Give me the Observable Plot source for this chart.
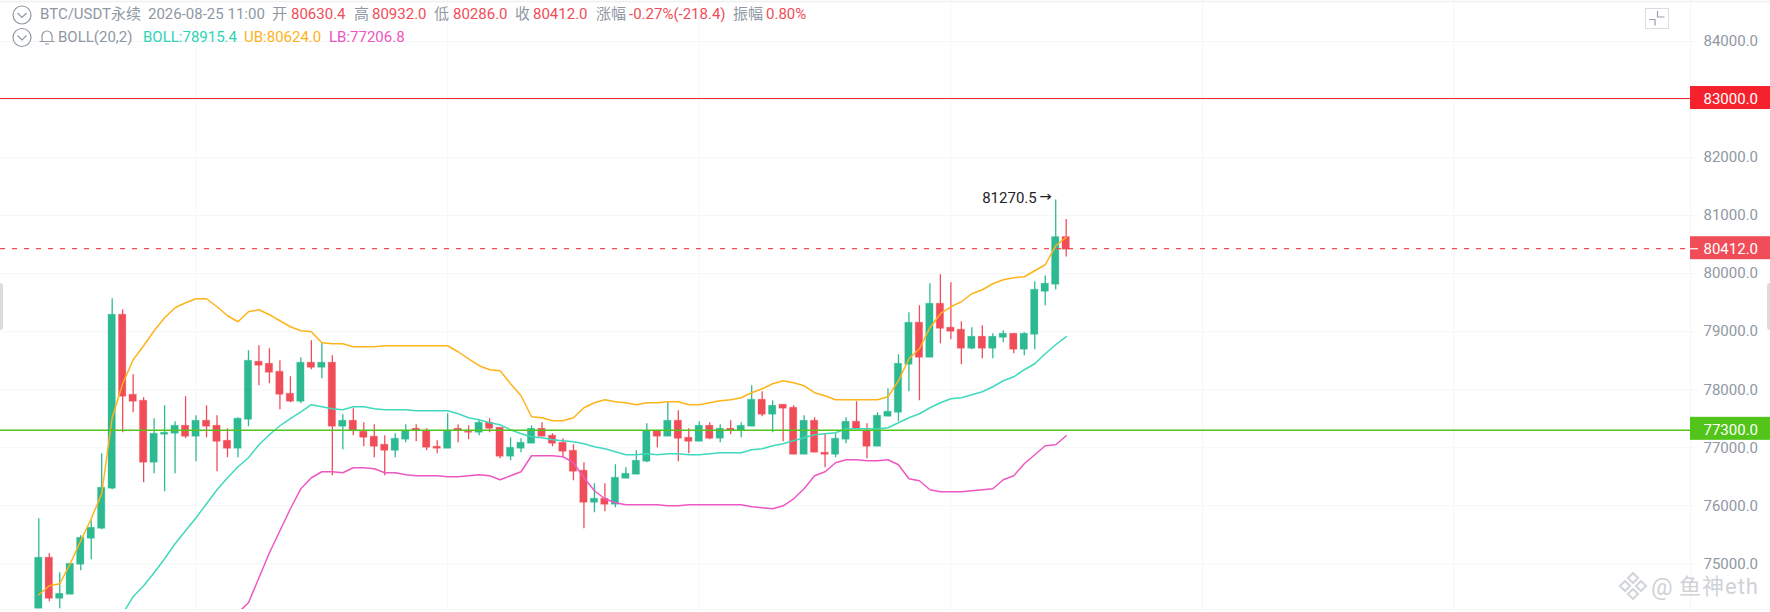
<!DOCTYPE html>
<html>
<head>
<meta charset="utf-8">
<script src="https://cdn.jsdelivr.net/npm/d3@7"></script>
<script src="https://cdn.jsdelivr.net/npm/@observablehq/plot@0.6"></script>
<style>
html,body{margin:0;padding:0;background:#fff;width:1770px;height:612px;overflow:hidden}
#wrap{position:relative;width:1770px;height:612px;font-family:Roboto,"Noto Sans CJK SC",sans-serif;font-size:15px;color:#8f98a3}
#wrap svg{display:block}
.t{position:absolute;white-space:nowrap;line-height:20px}
.r1{top:4px}.r2{top:27px}
.red{color:#f04d59}
.ov{position:absolute}
</style>
</head>
<body>
<div id="wrap">
  <div id="chart"></div>
  <svg class="ov" style="left:11px;top:4px" width="22" height="46" fill="none" stroke="#8f98a3" stroke-width="1.2">
    <circle cx="11" cy="11" r="9"/><path d="M6.5 9l4.5 4.5 4.5-4.5"/>
    <circle cx="11" cy="33.5" r="9"/><path d="M6.5 31.5l4.5 4.5 4.5-4.5"/>
  </svg>
  <svg class="ov" style="left:39px;top:28px" width="18" height="18" fill="none" stroke="#8f98a3" stroke-width="1.2">
    <path d="M0.5 13.5h15M3 13.5V8a5 5 0 0 1 10 0v5.5M6 16h4"/>
  </svg>
  <span class="t r1" style="left:40px">BTC/USDT永续</span>
  <span class="t r1" style="left:148px">2026-08-25 11:00</span>
  <span class="t r1" style="left:272px">开</span><span class="t r1 red" style="left:291px">80630.4</span>
  <span class="t r1" style="left:354px">高</span><span class="t r1 red" style="left:372px">80932.0</span>
  <span class="t r1" style="left:434px">低</span><span class="t r1 red" style="left:453px">80286.0</span>
  <span class="t r1" style="left:515px">收</span><span class="t r1 red" style="left:533px">80412.0</span>
  <span class="t r1" style="left:596px">涨幅</span><span class="t r1 red" style="left:629px">-0.27%(-218.4)</span>
  <span class="t r1" style="left:733px">振幅</span><span class="t r1 red" style="left:766px">0.80%</span>
  <span class="t r2" style="left:58px">BOLL(20,2)</span>
  <span class="t r2" style="left:143px;color:#2dd4b4">BOLL:78915.4</span>
  <span class="t r2" style="left:244px;color:#ffb21a">UB:80624.0</span>
  <span class="t r2" style="left:329px;color:#ef55c0">LB:77206.8</span>
  <svg class="ov" style="left:1645px;top:8px" width="24" height="21" fill="none">
    <rect x=".5" y=".5" width="23" height="20" stroke="#d9dce0"/>
    <path d="M4 11.5h6v6" stroke="#97a0aa" stroke-width="1.2"/>
    <path d="M12.5 3v6h7" stroke="#97a0aa" stroke-width="1.2"/>
  </svg>
  <div class="ov" style="left:0;top:283px;width:3px;height:47px;background:#dcdcdc;border-radius:0 3px 3px 0"></div>
  <div class="ov" style="left:1767px;top:283px;width:3px;height:47px;background:#dcdcdc;border-radius:3px 0 0 3px"></div>
  <svg class="ov" style="left:1618px;top:571px" width="30" height="30" fill="none" stroke="#d3d6da" stroke-width="2.2">
    <path d="M15 2l5 5-5 5-5-5zM15 18l5 5-5 5-5-5zM2 15l5-5 5 5-5 5zM18 15l5-5 5 5-5 5z"/>
  </svg>
  <span class="t" style="left:1651px;top:573px;font-size:24px;line-height:28px;color:#cfd2d6">@</span>
  <span class="t" style="left:1679px;top:573px;font-size:22px;line-height:28px;color:#cfd2d6;letter-spacing:1px">鱼神eth</span>
</div>
<script>
const open = [74226,75105,74398,74467,74984,75432,75604,76294,79292,77913,77810,76742,77224,77241,77379,77190,77465,77379,77121,76983,77482,78482,78447,78309,77930,77793,78465,78378,78465,77362,77465,77276,77190,77052,76948,77138,77327,77293,77017,76983,77327,77276,77258,77431,77345,76845,76983,77069,77327,77207,77086,76948,76604,76052,76121,76018,76466,76535,76759,77293,77190,77465,77172,77103,77379,77155,77327,77293,77362,77827,77569,77741,77689,76879,77465,76914,76879,77138,77448,77293,77017,77534,77603,78430,79154,78551,79481,79068,79033,78706,78913,78706,78895,78964,78689,78947,79688,79808,80630.4];
const high = [75777,75174,74846,75001,75484,75742,76897,79567,79378,78258,77862,77500,77724,77448,77879,77551,77724,77551,77327,77517,78671,78757,78706,78499,78223,78551,78844,78809,78585,77569,77672,77431,77396,77207,77241,77396,77396,77327,77121,77586,77396,77379,77482,77500,77345,77172,77155,77379,77431,77241,77155,77052,76742,76380,76380,76707,76655,76948,77414,77293,77775,77638,77327,77448,77431,77396,77465,77431,78068,77965,77810,77741,77724,77551,77517,77241,77241,77517,77793,77414,77603,78017,78602,79326,79447,79826,79981,79843,79171,79068,79102,78964,79016,78964,78981,79860,79964,81270.5,80932];
const low = [74226,74347,74226,74467,74881,75070,75587,76276,77258,77603,76397,76552,76242,76552,77155,76759,77172,76586,76828,76828,77362,78068,78103,77655,77775,77758,78344,78189,76518,76966,77207,77017,76828,76518,76828,77086,77103,76948,76897,76983,77086,77138,77207,77258,76810,76776,76914,77069,77190,77017,76845,76431,75604,75880,75897,75966,76466,76535,76742,77000,77190,76759,76897,77103,77138,77086,77224,77172,77362,77534,77258,77103,76879,76879,76914,76655,76828,77069,77327,76810,77017,77534,77448,77965,77810,78551,78792,78861,78430,78689,78533,78533,78809,78620,78585,78689,79447,79722,80286];
const close = [75105,74398,74484,75001,75449,75622,76311,79292,77879,77793,76742,77241,77258,77379,77190,77465,77362,77103,76983,77500,78499,78413,78292,77913,77793,78465,78378,78465,77362,77465,77293,77172,77017,76948,77155,77293,77293,77000,76983,77293,77293,77258,77431,77327,76845,77000,77086,77327,77190,77069,76931,76586,76052,76121,76018,76483,76552,76776,77293,77190,77465,77155,77103,77379,77155,77327,77293,77379,77827,77569,77724,77672,76879,77465,76914,76879,77155,77448,77327,77017,77551,77620,78447,79154,78551,79481,79050,78999,78706,78913,78706,78913,78964,78689,78964,79722,79826,80630.4,80412];
const upper = [74467,74622,74657,75001,75398,75777,76207,77517,78103,78516,78757,79016,79240,79412,79498,79567,79567,79429,79274,79171,79343,79378,79292,79188,79085,79016,78999,78809,78792,78792,78740,78740,78740,78757,78757,78757,78757,78757,78757,78757,78654,78533,78413,78344,78327,78103,77896,77534,77517,77465,77465,77517,77689,77775,77827,77793,77775,77741,77775,77775,77793,77793,77741,77741,77775,77810,77827,77862,77948,78017,78103,78154,78120,78068,77948,77896,77827,77827,77827,77827,77827,77879,78154,78533,78706,79068,79309,79429,79515,79653,79722,79826,79895,79929,79946,80050,80153,80480,80624];
const middle = [null,null,null,null,null,null,null,null,74140,74433,74622,74846,75087,75346,75570,75794,76035,76276,76483,76673,76828,77052,77224,77379,77500,77620,77741,77706,77672,77655,77706,77706,77672,77655,77655,77655,77638,77638,77638,77638,77586,77517,77482,77431,77396,77310,77241,77190,77172,77138,77121,77103,77069,77017,76983,76931,76879,76879,76897,76879,76897,76897,76879,76879,76897,76914,76914,76914,76966,76983,77034,77069,77121,77172,77224,77241,77258,77327,77327,77327,77327,77345,77431,77517,77586,77689,77775,77844,77862,77913,77965,78051,78154,78223,78344,78447,78620,78775,78915.4];
const lower = [null,null,null,null,null,null,null,null,null,null,null,null,null,null,null,null,null,null,null,74157,74329,74760,75191,75570,75949,76294,76483,76586,76586,76569,76655,76655,76638,76569,76569,76535,76518,76518,76518,76500,76500,76518,76535,76518,76449,76518,76586,76862,76862,76862,76845,76742,76483,76259,76121,76052,76018,76018,76018,76018,76000,76000,76018,76018,76018,76018,76018,76018,75983,75966,75949,76000,76121,76294,76518,76586,76742,76793,76793,76776,76776,76793,76707,76466,76431,76276,76242,76242,76242,76259,76276,76294,76449,76518,76724,76879,77034,77052,77206.8];
const priceTicks = [75000,76000,77000,78000,79000,80000,81000,82000,83000,84000];
const sessionBreaks = [15,39,63,87,111,135];
const levelPrices = [83000,80412,77300];
const levelColors = ["#f5222d","#f04d59","#52c41a"];
const peakIndex = 97, peakValue = "81270.5", peakArrow = "→";

const RED="#f04d59", GREEN="#2dba92", GRID="#f5f6f8";
const pxPerIndex = 10.484, tagW = 80;
const xDomain = [-3.653, 157.55], yDomain = [74213, 84706];
const yPerPx = (yDomain[1]-yDomain[0])/609;
const idx = d3.range(open.length);
const up = idx.filter(i=>close[i]>=open[i]), down = idx.filter(i=>close[i]<open[i]);
const levels = levelPrices.map((p,k)=>({p,c:levelColors[k]}));
const fmt = d=>d.toFixed(1);
const tagEnd = xDomain[1]+tagW/pxPerIndex;

function candles(data,color){
  return [
    Plot.ruleX(data,{x:i=>i,y1:i=>low[i],y2:i=>high[i],stroke:color,strokeWidth:1.3,clip:true}),
    Plot.rect(data,{x1:i=>i-0.35,x2:i=>i+0.35,y1:i=>Math.min(open[i],close[i]),y2:i=>Math.max(open[i],close[i]),fill:color,stroke:color,strokeOpacity:.3,strokeWidth:1,clip:true})
  ];
}
function band(arr,color){
  return Plot.line(idx,{x:i=>i,y:i=>arr[i],stroke:color,strokeWidth:1.5,clip:true});
}
const plot = Plot.plot({
  width:1770,height:612,marginLeft:0,marginTop:0,marginBottom:3,marginRight:tagW,
  style:{fontFamily:'Roboto,"Noto Sans CJK SC",sans-serif',fontSize:"15px",background:"transparent",overflow:"visible"},
  x:{domain:xDomain,axis:null},
  y:{domain:yDomain,axis:null},
  marks:[
    Plot.ruleX(sessionBreaks,{stroke:GRID,strokeWidth:1,clip:true}),
    Plot.ruleX([xDomain[1]],{stroke:GRID,strokeWidth:1}),
    Plot.ruleY([yDomain[1]-yPerPx],{stroke:"#eff0f2",strokeWidth:1.5,x1:xDomain[0],x2:tagEnd}),
    Plot.ruleY([yDomain[0]],{stroke:GRID,strokeWidth:1,x1:xDomain[0],x2:tagEnd}),
    Plot.gridY(priceTicks,{stroke:GRID,strokeOpacity:1}),
    Plot.axisY({anchor:"right",ticks:priceTicks,tickFormat:fmt,tickSize:7,tickPadding:6,stroke:GRID,fill:"#8f98a3",label:null}),
    ...candles(up,GREEN),
    ...candles(down,RED),
    band(upper,"#ffb31a"),
    band(middle,"#3fd9bd"),
    band(lower,"#ee58c2"),
    Plot.ruleY([levels[0]],{y:"p",stroke:"c",strokeWidth:1,dy:-1,x1:xDomain[0],x2:xDomain[1]}),
    Plot.ruleY([levels[1]],{y:"p",stroke:"c",strokeWidth:1.2,dy:-1,strokeDasharray:"5 7",x1:xDomain[0],x2:xDomain[1]}),
    Plot.ruleY([levels[2]],{y:"p",stroke:"c",strokeWidth:1.5,x1:xDomain[0],x2:xDomain[1]}),
    Plot.rect(levels,{x1:xDomain[1],x2:tagEnd,y1:d=>d.p-11.5*yPerPx,y2:d=>d.p+11.5*yPerPx,fill:"c",dy:-1.5}),
    Plot.ruleY([levels[1]],{y:"p",stroke:"#fff",strokeWidth:1.2,dy:-1,x1:xDomain[1],x2:xDomain[1]+8/pxPerIndex}),
    Plot.text(levels,{y:"p",text:d=>fmt(d.p),frameAnchor:"right",dx:13,dy:-0.5,textAnchor:"start",fill:"#fff"}),
    Plot.text([peakIndex],{x:i=>i,y:i=>high[i],text:()=>peakValue,textAnchor:"end",dx:-19,dy:-2,fill:"#1f2329"}),
    Plot.text([peakIndex],{x:i=>i,y:i=>high[i],text:()=>peakArrow,textAnchor:"end",dx:-4,dy:-2,fontSize:12,fontWeight:"bold",fill:"#1f2329"})
  ]
});
document.getElementById("chart").appendChild(plot);
</script>
</body>
</html>
